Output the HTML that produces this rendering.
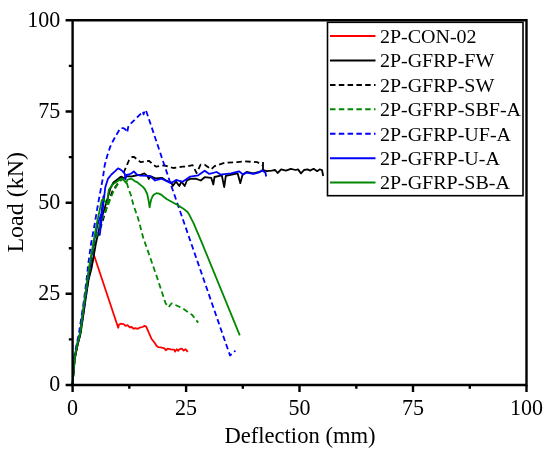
<!DOCTYPE html><html><head><meta charset="utf-8"><style>html,body{margin:0;padding:0;background:#fff;}svg{display:block}</style></head><body>
<svg width="550" height="456" viewBox="0 0 550 456">
<rect width="550" height="456" fill="#fff"/>
<path d="M72.6,385.0 L73.4,372.0 L74.6,360.0 L77.5,345.0 L80.0,334.0 L85.0,300.0 L88.0,280.0 L90.5,268.0 L94.2,255.8 L118.2,327.7 L118.9,324.8 L120.7,323.7 L123.6,324.1 L125.5,325.9 L127.6,325.2 L129.8,327.4 L131.6,327.0 L133.8,328.8 L135.3,328.1 L137.8,328.8 L139.6,327.7 L142.5,327.0 L144.7,325.9 L146.2,326.6 L151.6,339.0 L155.0,343.3 L156.3,345.5 L158.2,347.1 L160.7,347.4 L164.6,348.4 L165.8,350.3 L167.7,348.7 L170.9,349.3 L174.1,349.6 L175.1,351.6 L176.7,349.3 L178.2,350.9 L179.2,349.3 L181.8,348.7 L183.7,350.6 L185.6,349.3 L187.8,351.9" fill="none" stroke="#ff0000" stroke-width="1.8" stroke-linejoin="round"/>
<path d="M72.6,385.0 L73.6,370.0 L75.0,357.0 L77.5,345.0 L80.5,334.0 L85.5,300.0 L88.5,280.0 L91.6,268.0 L95.8,244.0 L100.5,222.0 L105.0,207.0 L107.6,198.3 L110.3,188.7 L113.4,182.5 L116.4,180.3 L120.8,176.8 L124.3,178.1 L126.5,176.4 L132.1,176.4 L138.0,175.0 L140.0,175.1 L144.4,173.4 L147.6,176.2 L148.7,178.9 L150.9,176.2 L155.3,178.4 L161.8,177.8 L166.2,180.5 L171.6,182.7 L172.7,186.0 L176.0,181.6 L179.3,186.0 L181.4,181.6 L184.7,186.0 L186.9,180.5 L190.2,178.9 L195.5,178.6 L200.8,180.5 L204.7,177.2 L211.3,177.9 L213.3,184.5 L214.5,177.0 L221.8,175.3 L224.2,187.1 L225.8,175.9 L237.6,173.3 L240.3,183.2 L242.6,174.6 L246.6,172.0 L253.2,173.3 L261.1,171.3 L263.0,170.0 L266.8,171.2 L271.6,170.6 L275.2,170.0 L277.6,173.0 L281.2,169.4 L286.0,170.6 L290.8,168.8 L295.6,170.0 L298.0,169.4 L301.0,173.4 L304.0,170.0 L307.6,169.4 L310.0,170.6 L313.6,168.8 L317.2,171.2 L319.6,169.4 L322.0,170.0 L323.2,176.0" fill="none" stroke="#000000" stroke-width="1.8" stroke-linejoin="round"/>
<path d="M72.6,385.0 L73.8,370.0 L75.0,357.0 L77.5,345.0 L80.3,334.0 L85.3,300.0 L88.2,280.0 L90.5,268.0 L94.5,244.0 L101.5,225.0 L108.0,203.2 L112.4,191.2 L117.9,183.5 L122.3,175.8 L125.6,168.2 L128.9,160.5 L132.3,157.0 L133.9,156.8 L140.5,162.1 L149.1,160.8 L153.0,164.7 L156.3,166.7 L164.2,165.4 L173.4,168.0 L182.6,166.7 L185.0,166.7 L192.6,165.2 L196.6,173.0 L200.6,164.6 L204.7,164.7 L211.3,169.3 L214.6,166.1 L224.5,162.8 L237.6,162.1 L245.0,161.4 L257.1,162.1 L262.5,165.5" fill="none" stroke="#000000" stroke-width="1.8" stroke-linejoin="round" stroke-dasharray="5.5 3.3"/>
<path d="M263.0,162.0 L263.0,170.0" fill="none" stroke="#000000" stroke-width="1.8" stroke-linejoin="round"/>
<path d="M72.6,385.0 L73.6,370.0 L74.8,357.0 L77.2,345.0 L80.0,334.0 L85.0,300.0 L88.0,280.0 L90.0,268.0 L94.0,244.0 L100.0,225.0 L108.6,203.2 L113.5,191.2 L117.9,183.5 L122.3,179.1 L126.7,182.4 L128.9,190.1 L130.9,195.0 L133.2,204.3 L138.2,218.7 L143.4,238.4 L149.3,255.0 L157.8,279.6 L165.6,303.3 L168.6,307.2 L171.6,303.3 L182.4,308.2 L192.3,315.1 L198.2,322.6" fill="none" stroke="#008800" stroke-width="1.8" stroke-linejoin="round" stroke-dasharray="5.5 3.3"/>
<path d="M72.6,385.0 L73.2,370.0 L74.2,357.0 L76.5,345.0 L78.8,334.0 L84.0,300.0 L86.5,280.0 L88.5,262.0 L91.0,244.0 L94.5,225.0 L98.0,204.3 L102.5,180.0 L103.3,175.0 L104.6,165.7 L106.4,158.7 L108.2,152.5 L110.4,146.4 L112.5,142.0 L115.2,136.8 L120.4,128.1 L123.5,128.2 L125.5,129.5 L127.2,132.5 L128.2,127.0 L130.0,124.3 L136.1,118.4 L141.4,113.2 L142.8,111.5 L143.6,114.3 L144.5,111.3 L145.8,109.8 L171.9,187.6 L230.0,355.5 L235.4,350.7" fill="none" stroke="#0000ff" stroke-width="1.8" stroke-linejoin="round" stroke-dasharray="5.5 3.3"/>
<path d="M72.6,385.0 L73.4,370.0 L74.6,357.0 L77.0,345.0 L79.8,334.0 L84.8,300.0 L87.5,280.0 L89.5,268.0 L93.5,244.0 L97.5,225.0 L101.5,213.0 L102.6,202.0 L103.6,196.0 L99.8,235.0 L104.4,195.0 L105.3,187.2 L107.9,178.9 L111.4,174.5 L114.9,171.4 L118.0,168.3 L120.6,169.6 L122.8,171.4 L124.8,173.8 L125.5,179.3 L126.3,175.0 L129.0,174.5 L131.6,173.2 L133.8,171.4 L136.8,174.5 L140.0,175.6 L149.7,175.9 L155.0,180.5 L161.6,178.6 L170.8,183.2 L176.1,179.9 L182.6,181.8 L190.3,176.6 L198.2,175.3 L204.7,170.7 L209.3,173.9 L216.6,172.0 L220.5,174.6 L231.1,173.3 L238.9,171.3 L243.3,174.6 L246.6,172.6 L253.2,173.9 L258.4,172.6 L262.4,170.3 L265.6,173.0 L266.1,176.5" fill="none" stroke="#0000ff" stroke-width="1.8" stroke-linejoin="round"/>
<path d="M72.6,385.0 L73.6,370.0 L74.8,357.0 L77.0,345.0 L80.0,334.0 L84.5,300.0 L87.3,280.0 L89.0,268.0 L93.2,244.0 L96.5,225.0 L101.8,200.3 L102.5,199.7 L103.8,199.1 L106.5,203.7 L108.5,204.0 L107.8,196.0 L109.0,189.5 L112.9,184.3 L118.2,180.8 L121.2,178.6 L123.5,179.5 L125.8,182.8 L127.8,179.5 L131.1,178.6 L135.0,181.3 L136.6,181.8 L143.2,187.1 L145.0,189.4 L147.2,194.0 L148.5,200.0 L149.6,207.3 L150.4,203.0 L151.2,199.5 L152.7,196.0 L154.5,194.2 L156.5,193.2 L159.0,193.6 L161.5,194.9 L164.0,197.0 L167.0,199.3 L172.0,202.0 L178.0,205.3 L183.0,208.4 L187.6,212.0 L189.2,214.6 L193.3,222.6 L200.9,240.4 L239.8,335.3" fill="none" stroke="#008800" stroke-width="1.8" stroke-linejoin="round"/>
<g stroke="#000" fill="none" stroke-width="2.4" stroke-linecap="square">
<path d="M72.6,20.3 H526.5 V385 H72.6 Z"/>
</g>
<path d="M72.6,385 v7 M72.6,385.0 h-7 M186.1,385 v7 M72.6,293.8 h-7 M299.5,385 v7 M72.6,202.7 h-7 M413.0,385 v7 M72.6,111.5 h-7 M526.5,385 v7 M72.6,20.3 h-7 M129.3,385 v3.8 M72.6,339.4 h-3.8 M242.8,385 v3.8 M72.6,248.2 h-3.8 M356.3,385 v3.8 M72.6,157.1 h-3.8 M469.8,385 v3.8 M72.6,65.9 h-3.8" stroke="#000" stroke-width="2.4" fill="none"/>
<g font-family="Liberation Serif, serif" font-size="22" fill="#000">
<text transform="translate(72.6,414.8) scale(1,1.09)" text-anchor="middle">0</text>
<text transform="translate(186.1,414.8) scale(1,1.09)" text-anchor="middle">25</text>
<text transform="translate(299.5,414.8) scale(1,1.09)" text-anchor="middle">50</text>
<text transform="translate(413.0,414.8) scale(1,1.09)" text-anchor="middle">75</text>
<text transform="translate(526.5,414.8) scale(1,1.09)" text-anchor="middle">100</text>
<text transform="translate(60.3,391.4) scale(1,1.09)" text-anchor="end">0</text>
<text transform="translate(60.3,300.2) scale(1,1.09)" text-anchor="end">25</text>
<text transform="translate(60.3,209.1) scale(1,1.09)" text-anchor="end">50</text>
<text transform="translate(60.3,117.9) scale(1,1.09)" text-anchor="end">75</text>
<text transform="translate(60.3,26.7) scale(1,1.09)" text-anchor="end">100</text>
</g>
<text x="300" y="442.7" font-family="Liberation Serif, serif" font-size="22.6" text-anchor="middle">Deflection (mm)</text>
<text transform="translate(23.2,202.3) rotate(-90)" font-family="Liberation Serif, serif" font-size="24" text-anchor="middle">Load (kN)</text>
<rect x="327.5" y="22.3" width="195.5" height="173.4" fill="#fff" stroke="#000" stroke-width="1.6"/>
<line x1="330" x2="375.5" y1="36.0" y2="36.0" stroke="#ff0000" stroke-width="2"/>
<text transform="translate(379.9,42.90) scale(1,0.95)" font-family="Liberation Serif, serif" font-size="20">2P-CON-02</text>
<line x1="330" x2="375.5" y1="60.4" y2="60.4" stroke="#000000" stroke-width="2"/>
<text transform="translate(379.9,67.33) scale(1,0.95)" font-family="Liberation Serif, serif" font-size="20">2P-GFRP-FW</text>
<line x1="330" x2="375.5" y1="84.9" y2="84.9" stroke="#000000" stroke-width="2" stroke-dasharray="5.5 3.3"/>
<text transform="translate(379.9,91.76) scale(1,0.95)" font-family="Liberation Serif, serif" font-size="20">2P-GFRP-SW</text>
<line x1="330" x2="375.5" y1="109.3" y2="109.3" stroke="#008800" stroke-width="2" stroke-dasharray="5.5 3.3"/>
<text transform="translate(379.9,116.19) scale(1,0.95)" font-family="Liberation Serif, serif" font-size="20">2P-GFRP-SBF-A</text>
<line x1="330" x2="375.5" y1="133.7" y2="133.7" stroke="#0000ff" stroke-width="2" stroke-dasharray="5.5 3.3"/>
<text transform="translate(379.9,140.62) scale(1,0.95)" font-family="Liberation Serif, serif" font-size="20">2P-GFRP-UF-A</text>
<line x1="330" x2="375.5" y1="158.2" y2="158.2" stroke="#0000ff" stroke-width="2"/>
<text transform="translate(379.9,165.05) scale(1,0.95)" font-family="Liberation Serif, serif" font-size="20">2P-GFRP-U-A</text>
<line x1="330" x2="375.5" y1="182.6" y2="182.6" stroke="#008800" stroke-width="2"/>
<text transform="translate(379.9,189.48) scale(1,0.95)" font-family="Liberation Serif, serif" font-size="20">2P-GFRP-SB-A</text>
</svg></body></html>
